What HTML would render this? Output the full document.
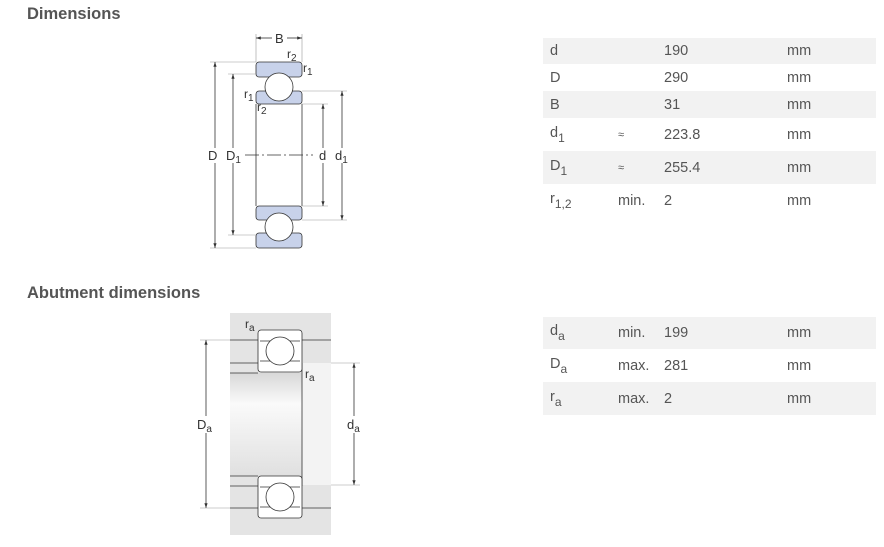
<!DOCTYPE html>
<html><head><meta charset="utf-8"><style>
body{margin:0;width:884px;height:547px;background:#fff;font-family:"Liberation Sans",Arial,sans-serif;color:#555;position:relative;overflow:hidden}
h2{position:absolute;margin:0;font-size:16.5px;font-weight:bold;color:#555}
.t{position:absolute;left:543px;width:333px;font-size:14.5px;color:#555}
.r{position:relative;width:100%}
.r.s{background:#f2f2f2}
.r span{position:absolute;top:50%;transform:translateY(-50%)}
.c1{left:7px}.c2{left:75px}.c3{left:121px}.c4{left:244px}
sub{font-size:12px;vertical-align:-5px}
svg{position:absolute;left:0;top:0}
</style></head><body>
<h2 style="left:27px;top:5px">Dimensions</h2>
<h2 style="left:27px;top:284px">Abutment dimensions</h2>

<div class="t" style="top:38px">
<div class="r s" style="height:26px"><span class="c1">d</span><span class="c3">190</span><span class="c4">mm</span></div>
<div class="r" style="height:27px"><span class="c1">D</span><span class="c3">290</span><span class="c4">mm</span></div>
<div class="r s" style="height:27px"><span class="c1">B</span><span class="c3">31</span><span class="c4">mm</span></div>
<div class="r" style="height:33px"><span class="c1">d<sub>1</sub></span><span class="c2" style="font-size:11px">≈</span><span class="c3">223.8</span><span class="c4">mm</span></div>
<div class="r s" style="height:33px"><span class="c1">D<sub>1</sub></span><span class="c2" style="font-size:11px">≈</span><span class="c3">255.4</span><span class="c4">mm</span></div>
<div class="r" style="height:33px"><span class="c1">r<sub>1,2</sub></span><span class="c2">min.</span><span class="c3">2</span><span class="c4">mm</span></div>
</div>

<div class="t" style="top:317px">
<div class="r s" style="height:32px"><span class="c1">d<sub>a</sub></span><span class="c2">min.</span><span class="c3">199</span><span class="c4">mm</span></div>
<div class="r" style="height:33px"><span class="c1">D<sub>a</sub></span><span class="c2">max.</span><span class="c3">281</span><span class="c4">mm</span></div>
<div class="r s" style="height:33px"><span class="c1">r<sub>a</sub></span><span class="c2">max.</span><span class="c3">2</span><span class="c4">mm</span></div>
</div>

<svg width="884" height="547" font-family="Liberation Sans,Arial,sans-serif" font-size="13" fill="#333">
<defs>
<marker id="a" viewBox="0 0 6 6" refX="6" refY="3" markerWidth="6" markerHeight="6" orient="auto-start-reverse"><path d="M0,1 L6,3 L0,5z" fill="#333"/></marker>
<linearGradient id="g" x1="0" y1="0" x2="0" y2="1"><stop offset="0" stop-color="#d8d8d8"/><stop offset="0.3" stop-color="#fafafa"/><stop offset="1" stop-color="#e0e0e0"/></linearGradient>
</defs>
<g stroke="#333" stroke-width="0.8">
<rect x="256" y="62" width="46" height="15" rx="3" fill="#c8d2ea"/>
<rect x="256" y="91" width="46" height="13" rx="3" fill="#c8d2ea"/>
<rect x="256" y="206" width="46" height="14" rx="3" fill="#c8d2ea"/>
<rect x="256" y="233" width="46" height="15" rx="3" fill="#c8d2ea"/>
<circle cx="279" cy="87" r="14" fill="#fff"/>
<circle cx="279" cy="227" r="14" fill="#fff"/>
<line x1="256" y1="104" x2="256" y2="206"/><line x1="302" y1="104" x2="302" y2="206"/>
<line x1="245" y1="155" x2="313" y2="155" stroke-dasharray="14,3,2,3"/>
<g stroke="#999" stroke-width="0.6">
<line x1="210" y1="62" x2="256" y2="62"/><line x1="210" y1="248" x2="256" y2="248"/>
<line x1="228" y1="74" x2="256" y2="74"/><line x1="228" y1="235" x2="256" y2="235"/>
<line x1="302" y1="104" x2="328" y2="104"/><line x1="302" y1="206" x2="328" y2="206"/>
<line x1="302" y1="91" x2="347" y2="91"/><line x1="302" y1="220" x2="347" y2="220"/>
<line x1="256" y1="34" x2="256" y2="62"/><line x1="302" y1="34" x2="302" y2="62"/>
</g>
<line x1="215" y1="62" x2="215" y2="248" marker-start="url(#a)" marker-end="url(#a)"/>
<line x1="233" y1="74" x2="233" y2="235" marker-start="url(#a)" marker-end="url(#a)"/>
<line x1="323" y1="104" x2="323" y2="206" marker-start="url(#a)" marker-end="url(#a)"/>
<line x1="342" y1="91" x2="342" y2="220" marker-start="url(#a)" marker-end="url(#a)"/>
<line x1="256" y1="38" x2="272" y2="38" marker-start="url(#a)"/><line x1="287" y1="38" x2="302" y2="38" marker-end="url(#a)"/>
</g>
<g stroke="none">
<rect x="207" y="148" width="34" height="15" fill="#fff"/>
<rect x="318" y="148" width="34" height="15" fill="#fff"/>
<text x="208" y="160">D</text><text x="226" y="160">D<tspan font-size="10" dy="3">1</tspan></text>
<text x="319" y="160">d</text><text x="335" y="160">d<tspan font-size="10" dy="3">1</tspan></text>
<text x="275" y="43">B</text>
<text x="287" y="58" font-size="12">r<tspan font-size="10" dy="3">2</tspan></text>
<text x="303" y="72" font-size="12">r<tspan font-size="10" dy="3">1</tspan></text>
<text x="244" y="98" font-size="12">r<tspan font-size="10" dy="3">1</tspan></text>
<text x="257" y="111" font-size="12">r<tspan font-size="10" dy="3">2</tspan></text>
</g>
<rect x="230" y="313" width="101" height="222" fill="#e4e4e4"/>
<rect x="230" y="373" width="72" height="103" fill="url(#g)"/>
<rect x="302" y="363" width="29" height="122" fill="#f3f3f3"/>
<g stroke="#333" stroke-width="0.8" fill="none">
<line x1="230" y1="340" x2="258" y2="340"/><line x1="302" y1="340" x2="331" y2="340"/>
<line x1="230" y1="508" x2="258" y2="508"/><line x1="302" y1="508" x2="331" y2="508"/>
<line x1="230" y1="363" x2="258" y2="363"/><line x1="230" y1="373" x2="258" y2="373"/>
<line x1="230" y1="476" x2="258" y2="476"/><line x1="230" y1="486" x2="258" y2="486"/>
<line x1="302" y1="363" x2="302" y2="486"/>
<rect x="258" y="330" width="44" height="42" rx="3" fill="#fff"/>
<rect x="258" y="476" width="44" height="42" rx="3" fill="#fff"/>
<line x1="260" y1="341" x2="300" y2="341"/><line x1="260" y1="361" x2="300" y2="361"/>
<line x1="260" y1="487" x2="300" y2="487"/><line x1="260" y1="507" x2="300" y2="507"/>
<circle cx="280" cy="351" r="14" fill="#fff"/>
<circle cx="280" cy="497" r="14" fill="#fff"/>
<line x1="206" y1="340" x2="206" y2="508" marker-start="url(#a)" marker-end="url(#a)"/>
<line x1="354" y1="363" x2="354" y2="485" marker-start="url(#a)" marker-end="url(#a)"/>
<g stroke="#999" stroke-width="0.6"><line x1="200" y1="340" x2="230" y2="340"/><line x1="200" y1="508" x2="230" y2="508"/>
<line x1="331" y1="363" x2="360" y2="363"/><line x1="331" y1="485" x2="360" y2="485"/></g>
</g>
<g stroke="none">
<rect x="195" y="416" width="22" height="17" fill="#fff"/>
<rect x="345" y="416" width="20" height="17" fill="#fff"/>
<text x="197" y="429">D<tspan font-size="10" dy="3">a</tspan></text>
<text x="347" y="429">d<tspan font-size="10" dy="3">a</tspan></text>
<text x="245" y="328" font-size="12">r<tspan font-size="10" dy="3">a</tspan></text>
<text x="305" y="378" font-size="12">r<tspan font-size="10" dy="3">a</tspan></text>
</g>
</svg>
</body></html>
